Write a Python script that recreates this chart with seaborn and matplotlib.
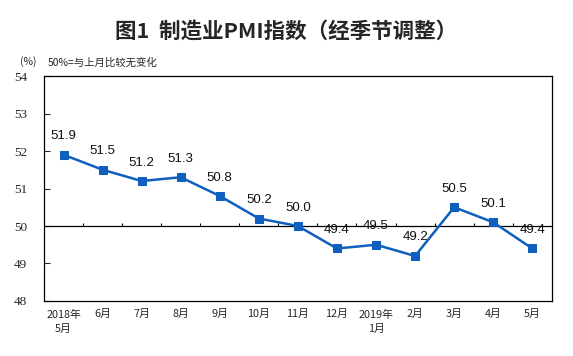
import numpy as np
import pandas as pd
import seaborn as sns
import matplotlib.pyplot as plt

months = ['2018年\n5月', '6月', '7月', '8月', '9月', '10月', '11月', '12月',
          '2019年\n1月', '2月', '3月', '4月', '5月']
pmi = [51.9, 51.5, 51.2, 51.3, 50.8, 50.2, 50.0, 49.4, 49.5, 49.2, 50.5, 50.1, 49.4]
yticks = [48, 49, 50, 51, 52, 53, 54]

sns.set_style('white')
plt.rcParams['font.family'] = ['Noto Sans CJK SC', 'DejaVu Sans']

df = pd.DataFrame({'pos': np.arange(len(months)), 'pmi': pmi})

fig = plt.figure(figsize=(5.73, 3.56), dpi=100)
ax = fig.add_axes([0.0768, 0.1545, 0.8862, 0.632])

blue = '#0f5fbf'
sns.lineplot(data=df, x='pos', y='pmi', ax=ax, color=blue, linewidth=1.8,
             marker='s', markersize=5.5, markeredgecolor=blue)

# value labels above each point
for x, y in zip(df['pos'], df['pmi']):
    ax.annotate(f'{y:.1f}', (x, y), xytext=(0, 9), textcoords='offset points',
                ha='center', va='bottom', fontsize=9.5, family='Liberation Sans',
                color='#111111')

ax.set_xlim(-0.5, len(months) - 0.5)
ax.set_ylim(48, 54)
ax.set_yticks(yticks)
ax.set_yticklabels([str(v) for v in yticks], family='Liberation Serif', fontsize=9.5)
ax.set_xticks(df['pos'])
ax.set_xticklabels(months, fontsize=7.8, linespacing=1.5)
ax.tick_params(axis='x', length=0, pad=6)
ax.tick_params(axis='y', direction='in', length=4, width=0.8, left=True, pad=12)
ax.set_xlabel('')
ax.set_ylabel('')

for s in ax.spines.values():
    s.set_color('black')
    s.set_linewidth(0.9)

# 50 reference line with category boundary ticks
ax.axhline(50, color='black', linewidth=0.9, zorder=1)
bounds = np.arange(len(months) + 1) - 0.5
ax.vlines(bounds[1:-1], 50, 50.07, color='black', linewidth=0.8)

fig.text(0.5, 0.913, '图1  制造业PMI指数（经季节调整）', ha='center', va='center',
         fontsize=15.5, fontweight='bold')
fig.text(0.035, 0.827, '(%)', fontsize=7.5, ha='left', va='center')
fig.text(0.083, 0.823, '50%=与上月比较无变化', fontsize=7.5, ha='left', va='center')

fig.savefig('out.png', dpi=100)
